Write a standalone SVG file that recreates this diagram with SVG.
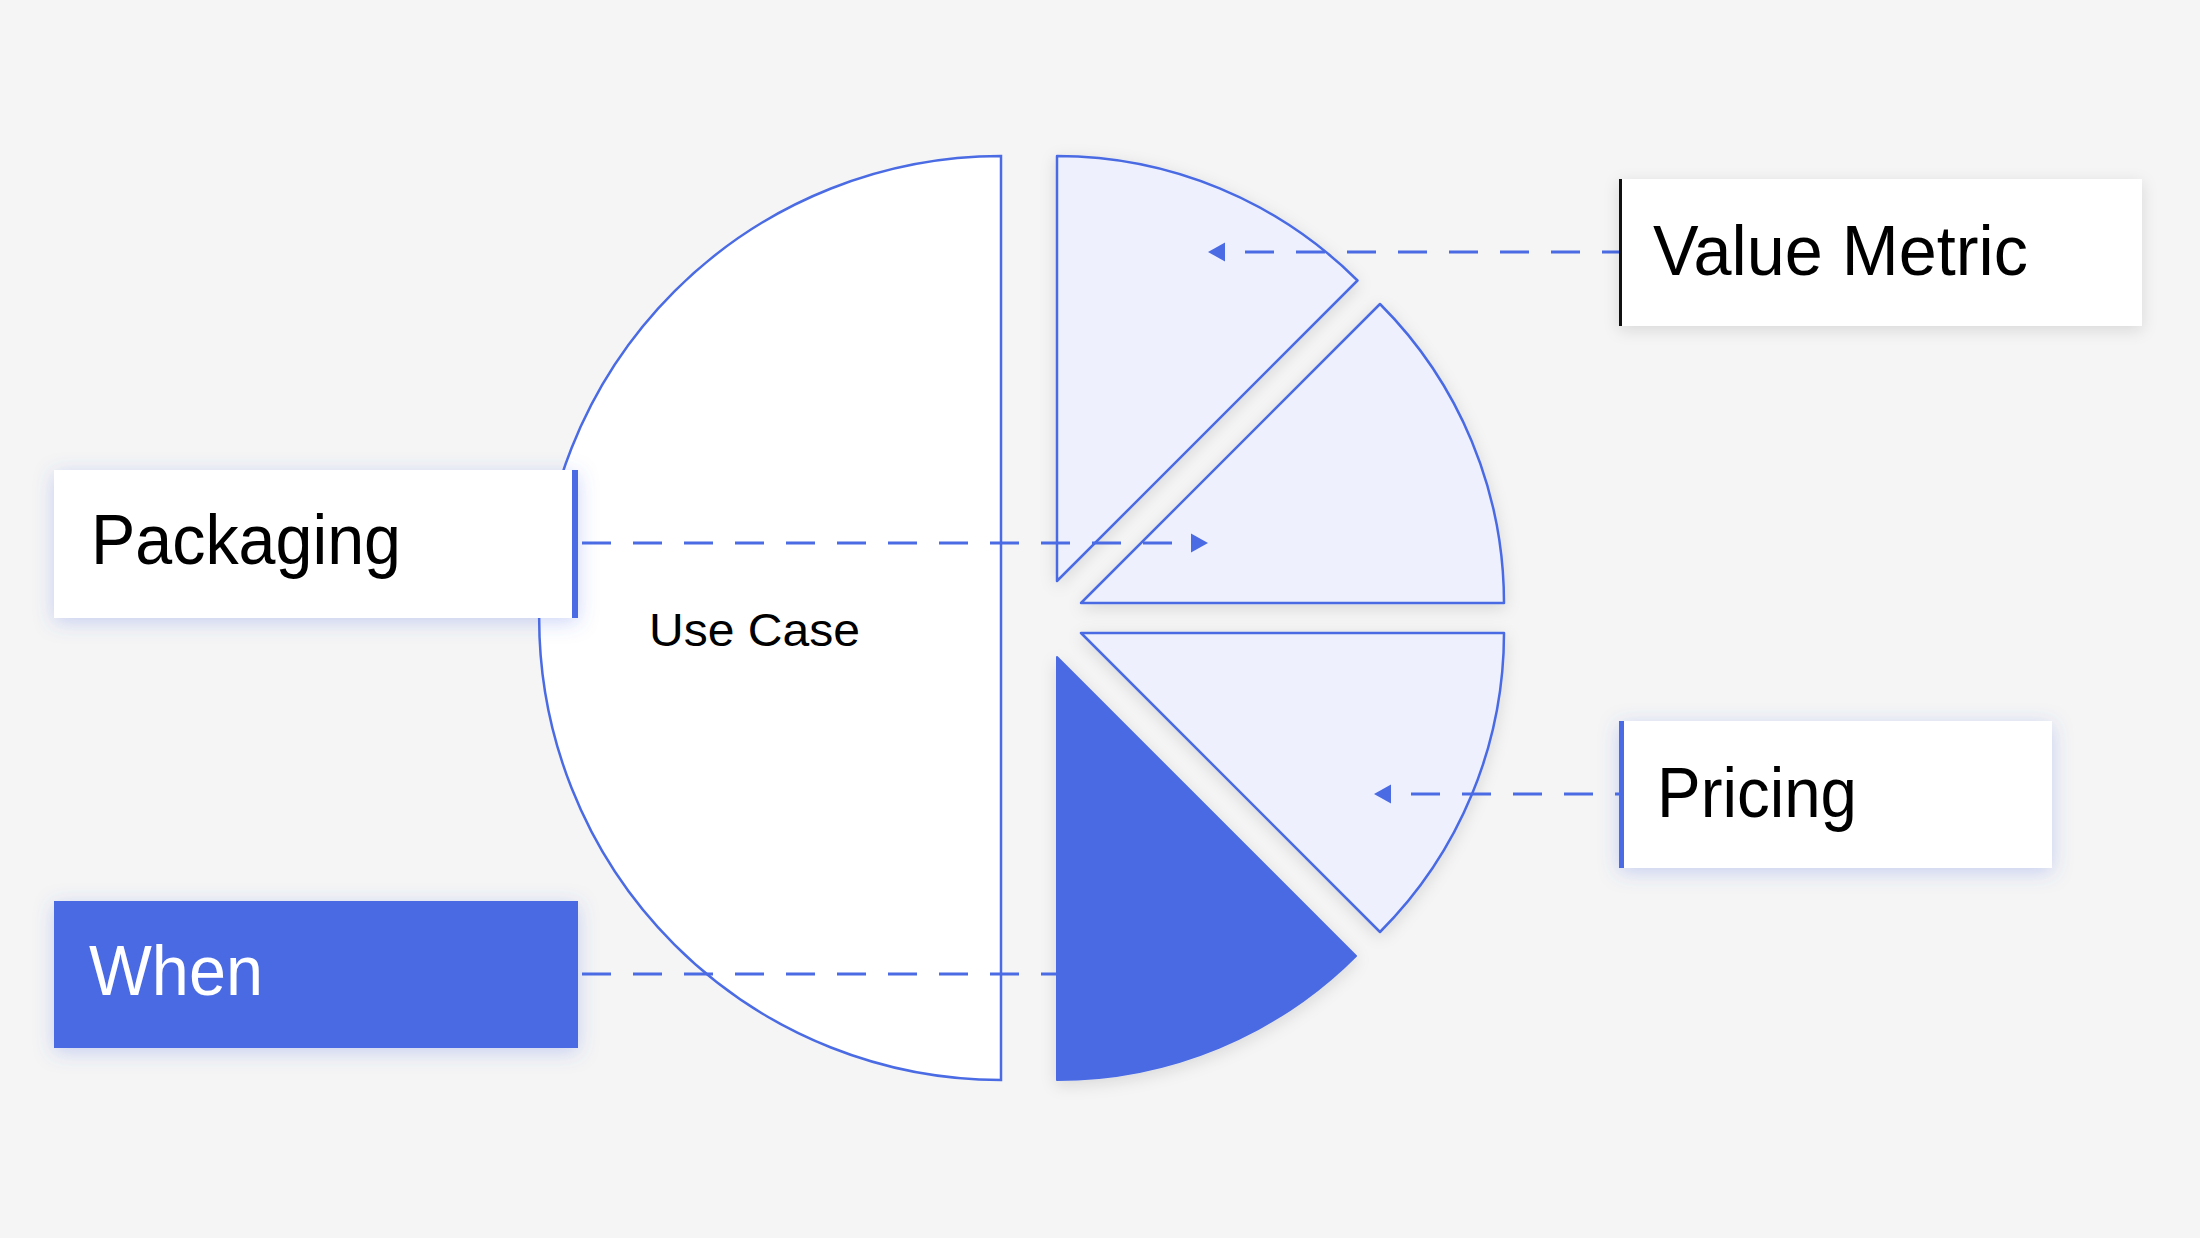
<svg xmlns="http://www.w3.org/2000/svg" width="2200" height="1238" viewBox="0 0 2200 1238">
<defs>
<style>
.lbl{font-family:"Liberation Sans",Arial,Helvetica,sans-serif;font-size:70px;fill:#000000;}
.uc{font-family:"Liberation Sans",Arial,Helvetica,sans-serif;font-size:47px;fill:#000000;}
.wedge{fill:#EEF1FD;stroke:#4A6BE3;stroke-width:2.5;stroke-linejoin:round;filter:url(#gshadow);}
.dash{stroke:#4A6BE3;stroke-width:3;stroke-dasharray:29 22;fill:none;}
.dashr{stroke-dashoffset:31;}
.arr{fill:#4A6BE3;}
</style>
<filter id="gshadow" x="-20%" y="-20%" width="140%" height="140%">
<feDropShadow dx="0" dy="4" stdDeviation="8" flood-color="#000000" flood-opacity="0.12"/>
</filter>
<filter id="bshadow" x="-20%" y="-40%" width="140%" height="180%">
<feDropShadow dx="0" dy="4" stdDeviation="10" flood-color="#4A6BE3" flood-opacity="0.28"/>
</filter>
</defs>
<rect x="0" y="0" width="2200" height="1238" fill="#F5F5F5"/>

<g id="use-case">
<path d="M1001,156 A462,462 0 0 0 1001,1080 Z" fill="#FFFFFF" stroke="#4A6BE3" stroke-width="2.5"/>
<text class="uc" x="649" y="646" textLength="211" lengthAdjust="spacingAndGlyphs">Use Case</text>
</g>

<g id="wedge-value-metric">
<path class="wedge" d="M1057,581 L1057,156 A425,425 0 0 1 1357.5,280.5 Z"/>
</g>
<g id="wedge-packaging">
<path class="wedge" d="M1081,603 L1380,304 A423,423 0 0 1 1504,603 Z"/>
</g>
<g id="wedge-pricing">
<path class="wedge" d="M1081,633 L1504,633 A423,423 0 0 1 1380,932 Z"/>
</g>
<g id="wedge-when">
<path d="M1057,657 L1356,956 A423,423 0 0 1 1057,1080 Z" fill="#4A6BE3" stroke="#4A6BE3" stroke-width="2" stroke-linejoin="round" filter="url(#gshadow)"/>
</g>

<g id="connectors">
<line class="dash dashr" x1="1225" y1="252" x2="1619" y2="252"/>
<polygon class="arr" points="1208,252 1225,242.5 1225,261.5"/>
<line class="dash" x1="582" y1="543" x2="1191" y2="543"/>
<polygon class="arr" points="1208,543 1191,533.5 1191,552.5"/>
<line class="dash dashr" x1="1391" y1="794" x2="1619" y2="794"/>
<polygon class="arr" points="1374,794 1391,784.5 1391,803.5"/>
<line class="dash" x1="582" y1="974" x2="1056" y2="974"/>
</g>

<g id="node-value-metric">
<rect x="1619" y="179" width="523" height="147" fill="#FFFFFF" filter="url(#gshadow)"/>
<rect x="1619" y="179" width="3" height="147" fill="#111111"/>
<text class="lbl" x="1653" y="275" textLength="375" lengthAdjust="spacingAndGlyphs">Value Metric</text>
</g>

<g id="node-pricing">
<rect x="1619" y="721" width="433" height="147" fill="#FFFFFF" filter="url(#bshadow)"/>
<rect x="1619" y="721" width="5" height="147" fill="#4A6BE3"/>
<text class="lbl" x="1657" y="817" textLength="200" lengthAdjust="spacingAndGlyphs">Pricing</text>
</g>

<g id="node-packaging">
<rect x="54" y="470" width="524" height="148" fill="#FFFFFF" filter="url(#bshadow)"/>
<rect x="572" y="470" width="6" height="148" fill="#4A6BE3"/>
<text class="lbl" x="91" y="564" textLength="310" lengthAdjust="spacingAndGlyphs">Packaging</text>
</g>

<g id="node-when">
<rect x="54" y="901" width="524" height="147" fill="#4A6BE3" filter="url(#bshadow)"/>
<text class="lbl" x="89" y="995" textLength="174" lengthAdjust="spacingAndGlyphs" style="fill:#FFFFFF">When</text>
</g>
</svg>
